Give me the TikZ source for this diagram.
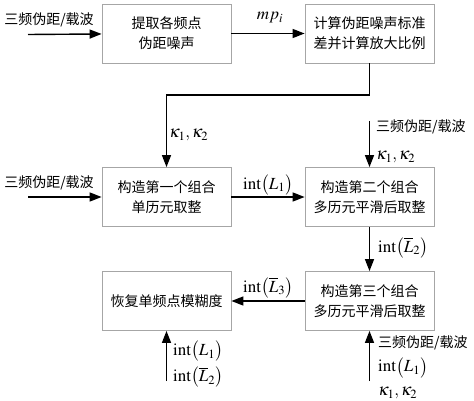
\documentclass[tikz,border=0pt]{standalone}
\usepackage{amsmath}
\usepackage{mathptmx}
\usepackage{fontspec}
\newfontfamily\cjk{Noto Sans CJK SC}
\usepackage{tikz}
\usetikzlibrary{arrows.meta,positioning}

\begin{document}
\begin{tikzpicture}
		[x=1pt,y=-1pt,
		box/.style={draw=black!35,line width=0.8pt,minimum width=129pt,minimum height=59pt,align=center,font=\cjk\fontsize{14}{20}\selectfont},
		lbl/.style={inner sep=0pt,font=\cjk\fontsize{14}{17}\selectfont},
		mlbl/.style={inner sep=0pt,font=\fontsize{17}{20}\selectfont},
		stack/.style={inner sep=0pt,anchor=north west,align=left},
		flow/.style={line width=1.4pt,-{Triangle[length=12pt,width=9pt]}}]
		\useasboundingbox (0,0) rectangle (474,401);
		
		\node[box] (extract) at (166.5,33.5) {提取各频点\\伪距噪声};
		\node[box] (noise) at (369.5,33.5) {计算伪距噪声标准\\差并计算放大比例};
		\node[box] (first) at (166.5,197) {构造第一个组合\\单历元取整};
		\node[box] (second) at (369.5,197) {构造第二个组合\\多历元平滑后取整};
		\node[box] (third) at (369.5,301) {构造第三个组合\\多历元平滑后取整};
		\node[box] (restore) at (166.5,301) {恢复单频点模糊度};
		
		\coordinate (in1) at (28,34.5);
		\coordinate (in2) at (28,197);
		\coordinate (turn) at (166.5,95);
		\coordinate (in3) at (369.5,121);
		\coordinate (in4) at (166.5,381);
		\coordinate (in5) at (369.5,381);
		
		\node[lbl] (t1) at (49,20) {三频伪距/载波};
		\node[lbl] (t2) at (49,183) {三频伪距/载波};
		\node[mlbl] (mp) at (270,18) {$mp_i$};
		\node[mlbl,anchor=west] (k1) at (169,135) {$\kappa_1,\kappa_2$};
		\node[stack,font=\fontsize{17}{28}\selectfont] (in3lbl) at (376,120)
			{{\cjk\fontsize{14}{28}\selectfont 三频伪距/载波}\\$\kappa_1,\kappa_2$};
		\node[mlbl] (l1) at (268,185) {$\mathrm{int}\bigl(L_1\bigr)$};
		\node[mlbl,anchor=west] (l2) at (378,248) {$\mathrm{int}\bigl(\overline{L}_2\bigr)$};
		\node[mlbl] (l3) at (268,288) {$\mathrm{int}\bigl(\overline{L}_3\bigr)$};
		\node[stack,font=\fontsize{17}{26}\selectfont] (in4lbl) at (173,341)
			{$\mathrm{int}\bigl(L_1\bigr)$\\$\mathrm{int}\bigl(\overline{L}_2\bigr)$};
		\node[stack,font=\fontsize{17}{24}\selectfont] (in5lbl) at (378,336)
			{{\cjk\fontsize{14}{24}\selectfont 三频伪距/载波}\\$\mathrm{int}\bigl(L_1\bigr)$\\$\kappa_1,\kappa_2$};
		
		\draw[flow] (in1) to (extract);
		\draw[flow] (extract) to (noise);
		\draw[flow] (noise.south) |- (turn) to (first.north);
		\draw[flow] (in2) to (first);
		\draw[flow] (first) to (second);
		\draw[flow] (in3) to (second.north);
		\draw[flow] (second) to (third);
		\draw[flow] (third) to (restore);
		\draw[flow] (in4) to (restore.south);
		\draw[flow] (in5) to (third.south);
		\end{tikzpicture}
\end{document}
